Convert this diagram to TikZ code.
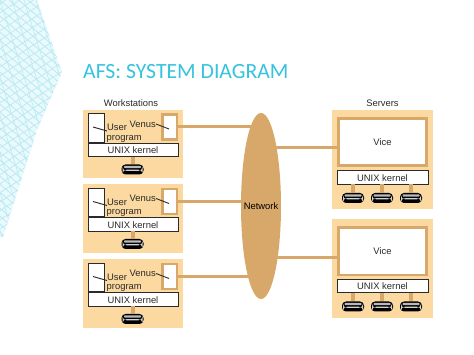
\documentclass[tikz,border=0pt]{standalone}
\usepackage{fontspec}
\setmainfont{Liberation Sans}
\newfontfamily\titlefont{Carlito}
\usetikzlibrary{shapes.geometric}
\pgfdeclarelayer{top}
\pgfsetlayers{main,top}
\definecolor{panelc}{HTML}{FBD9A0}
\definecolor{tanc}{HTML}{D8A86B}
\definecolor{titlec}{HTML}{35C3DF}
\definecolor{meshc}{HTML}{B8EAF3}
\definecolor{meshbg}{HTML}{EAF9FC}
\definecolor{inkc}{HTML}{2A2A2A}
\tikzset{
  x=1pt,y=-1pt,
  box/.style={rectangle,inner sep=0pt,outer sep=0pt,anchor=north west},
  panel/.style={box,fill=panelc},
  blackbox/.style={box,draw=inkc,line width=1pt,fill=white},
  tanbox/.style={box,draw=tanc,line width=2.6pt,fill=white},
  label/.style={inner sep=0pt,font=\fontsize{9.4}{10}\selectfont,text=inkc},
  link/.style={draw=tanc,line width=3pt},
  stem/.style={draw=tanc,line width=4pt},
  tick/.style={draw=inkc,line width=0.9pt},
  diskstack/.style={rectangle,rounded corners=4pt,inner sep=0pt,outer sep=0pt,
    minimum width=22pt,minimum height=10pt,fill=black,
    path picture={
      \fill[gray!55,rounded corners=0.8pt] (path picture bounding box.north west)++(2.5,1.4) rectangle ++(17,2.2);
      \fill[gray!35] (path picture bounding box.west)++(1,0.2) rectangle ++(20,1.1);
    }},
}
% one workstation: suffix, vertical offset
\newcommand{\workstation}[2]{%
  \node[panel,minimum width=100pt,minimum height=68.5pt] (ws#1) at (83,110+#2) {};
  \node[blackbox,minimum width=16pt,minimum height=28.5pt] (user#1) at (88,114+#2) {};
  \node[tanbox,minimum width=14.5pt,minimum height=25pt] (venus#1) at (162.5,114.5+#2) {};
  \node[blackbox,minimum width=90pt,minimum height=13.5pt] (kernel#1) at (88,143.5+#2) {};
  \node[label] at (kernel#1.center) {UNIX kernel};
  \node[label,anchor=west] (ulab#1) at (107,127.5+#2) {User};
  \node[label,anchor=west] (plab#1) at (106.5,138.5+#2) {program};
  \node[label,anchor=east] (vlab#1) at (156,124+#2) {Venus};
  \draw[tick] (93,127+#2) -- ([yshift=-3.5pt]ulab#1.west);
  \draw[tick] (vlab#1.east) -- (169,129+#2);
  \node[diskstack] (disk#1) at (132.5,169.5+#2) {};
  \draw[stem] (kernel#1.south -| disk#1.north) -- (disk#1.north);
  \draw[link] (venus#1.east) -- (venus#1.east -| net.center);
}
% one server: suffix, top of panel, top of Vice box, top of kernel box, panel height, Vice height
\newcommand{\server}[6]{%
  \node[panel,minimum width=101pt,minimum height=#5pt] (srv#1) at (332,#2) {};
  \node[tanbox,minimum width=88pt,minimum height=#6pt] (vice#1) at (338.5,#3) {};
  \node[label] at (vice#1.center) {Vice};
  \node[blackbox,minimum width=91pt,minimum height=13.5pt] (skernel#1) at (337,#4) {};
  \node[label] at (skernel#1.center) {UNIX kernel};
  \foreach \d/\px in {a/353,b/382,c/411}{
    \node[diskstack] (disk#1\d) at (\px,#4+27) {};
    \draw[stem] (skernel#1.south -| disk#1\d.north) -- (disk#1\d.north);
  }
  \draw[link] ([yshift=-6pt]vice#1.west) -- ([yshift=-6pt]net.center |- vice#1.west);
}
\begin{document}
\begin{tikzpicture}
\useasboundingbox (0,0) rectangle (474,355);
\fill[white] (0,0) rectangle (474,355);

% wireframe backdrop at the left edge
\begin{scope}
  \clip (0,0) -- (37,0) -- (62,72) -- (37,130) -- (3,237) -- (0,237) -- cycle;
  \fill[meshbg] (0,0) rectangle (70,240);
  \foreach \k in {-300,-292,...,240}
    \draw[meshc,line width=0.8pt] (-5,\k) -- (75,\k+68);
  \foreach \k in {-20,-11,...,300}
    \draw[meshc,line width=0.7pt] (-5,\k) -- (75,\k-52);
  \foreach \k in {-120,-108,...,90}
    \draw[meshc,line width=0.6pt] (\k,0) -- (\k+75,240);
\end{scope}

% heading
\node[anchor=base west,inner sep=0pt,text=titlec,font=\titlefont\fontsize{21.7}{23}\selectfont] (title) at (83,78.5) {AFS: SYSTEM DIAGRAM};

\node[label] (wslabel) at (131,103.5) {Workstations};
\node[label] (srvlabel) at (382.5,103.5) {Servers};

% the network sits above the links that run into it
\begin{pgfonlayer}{top}
  \node[ellipse,fill=tanc,inner sep=0pt,minimum width=40pt,minimum height=186pt,
        font=\fontsize{9.4}{10}\selectfont,text=black] (net) at (261,206) {\makebox[0pt]{Network}\rule{0pt}{0pt}};
\end{pgfonlayer}

\workstation{1}{0}
\workstation{2}{74.5}
\workstation{3}{149.5}

\server{1}{110}{118.5}{171}{99}{47}
\server{2}{219}{227.5}{279.5}{99}{47.5}
\end{tikzpicture}
\end{document}
